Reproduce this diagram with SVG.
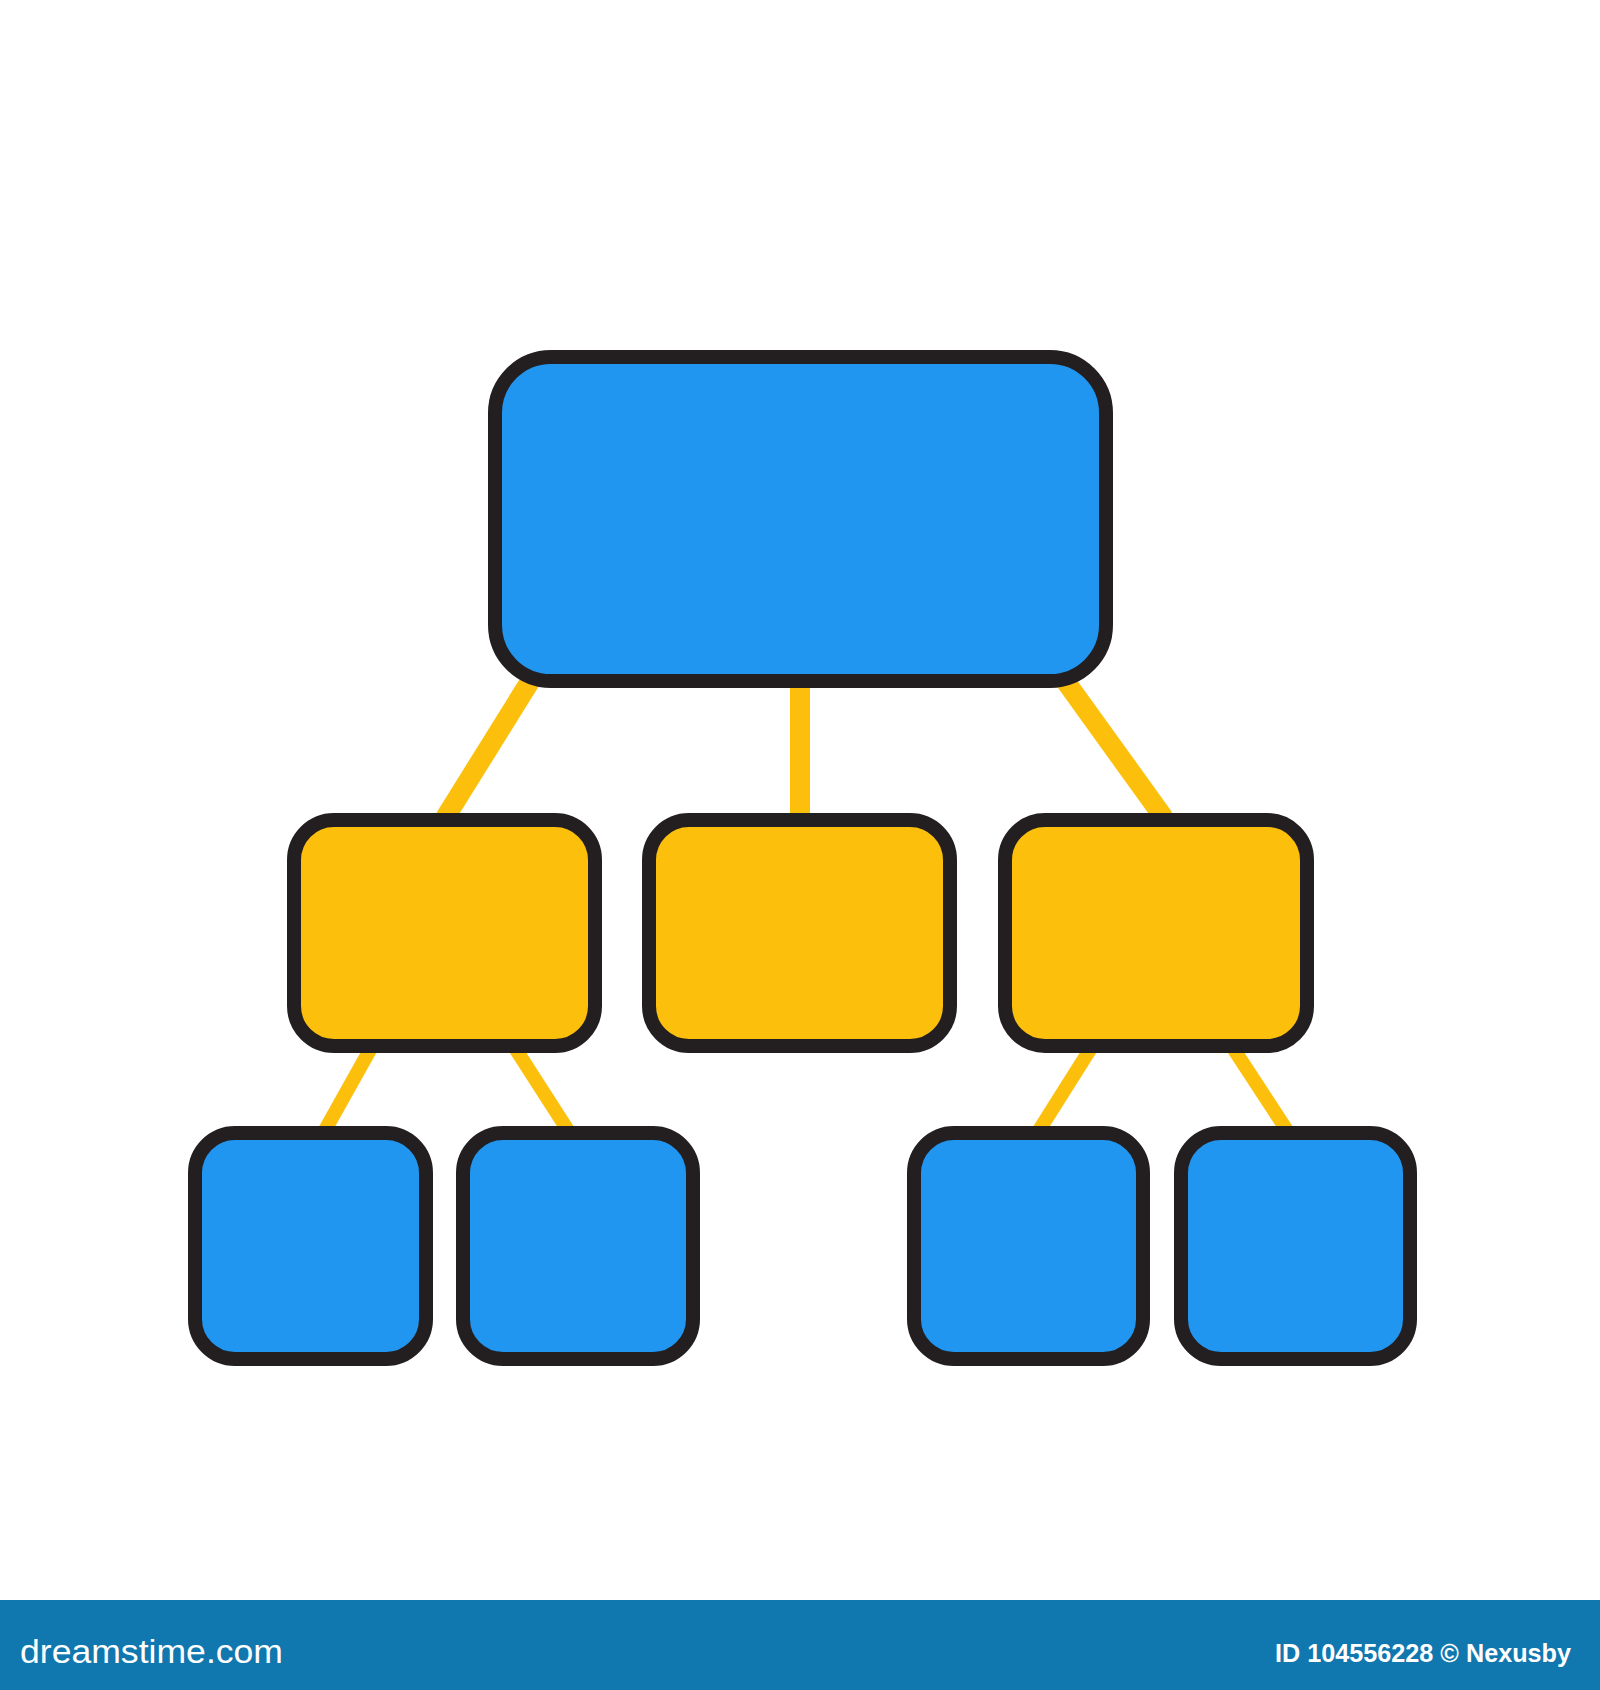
<svg xmlns="http://www.w3.org/2000/svg" width="1600" height="1690" viewBox="0 0 1600 1690">
<style>
.blue{fill:#2196F1;stroke:#231F20;stroke-width:14}
.yellow{fill:#FCC00C;stroke:#231F20;stroke-width:14}
.c1{stroke:#FCC00C;stroke-width:20;fill:none}
.c2{stroke:#FCC00C;stroke-width:14;fill:none}
.t{fill:#FFFFFF;font-family:"Liberation Sans",Arial,sans-serif}
</style>
<rect x="0" y="0" width="1600" height="1690" fill="#FFFFFF"/>
<g id="connectors">
<line class="c1" x1="534" y1="675" x2="445" y2="818"/>
<line class="c1" x1="800" y1="675" x2="800" y2="818"/>
<line class="c1" x1="1061" y1="675" x2="1164" y2="818"/>
<line class="c2" x1="371" y1="1048" x2="324" y2="1132"/>
<line class="c2" x1="515" y1="1048" x2="569" y2="1132"/>
<line class="c2" x1="1091" y1="1048" x2="1038" y2="1132"/>
<line class="c2" x1="1233" y1="1048" x2="1288" y2="1132"/>
</g>
<g id="root"><rect class="blue" x="495" y="357" width="611" height="324" rx="56"/></g>
<g id="mid1"><rect class="yellow" x="294" y="820" width="301" height="226" rx="40"/></g>
<g id="mid2"><rect class="yellow" x="649" y="820" width="301" height="226" rx="40"/></g>
<g id="mid3"><rect class="yellow" x="1005" y="820" width="302" height="226" rx="40"/></g>
<g id="leaf1"><rect class="blue" x="195" y="1133" width="231" height="226" rx="40"/></g>
<g id="leaf2"><rect class="blue" x="463" y="1133" width="230" height="226" rx="40"/></g>
<g id="leaf3"><rect class="blue" x="914" y="1133" width="229" height="226" rx="40"/></g>
<g id="leaf4"><rect class="blue" x="1181" y="1133" width="229" height="226" rx="40"/></g>
<g id="footer">
<rect x="0" y="1600" width="1600" height="90" fill="#1177AF"/>
<text class="t" x="20" y="1663" font-size="33" textLength="263" lengthAdjust="spacingAndGlyphs">dreamstime.com</text>
<text class="t" x="1275" y="1662" font-size="25" font-weight="bold" textLength="296" lengthAdjust="spacingAndGlyphs">ID 104556228 © Nexusby</text>
</g>
</svg>
